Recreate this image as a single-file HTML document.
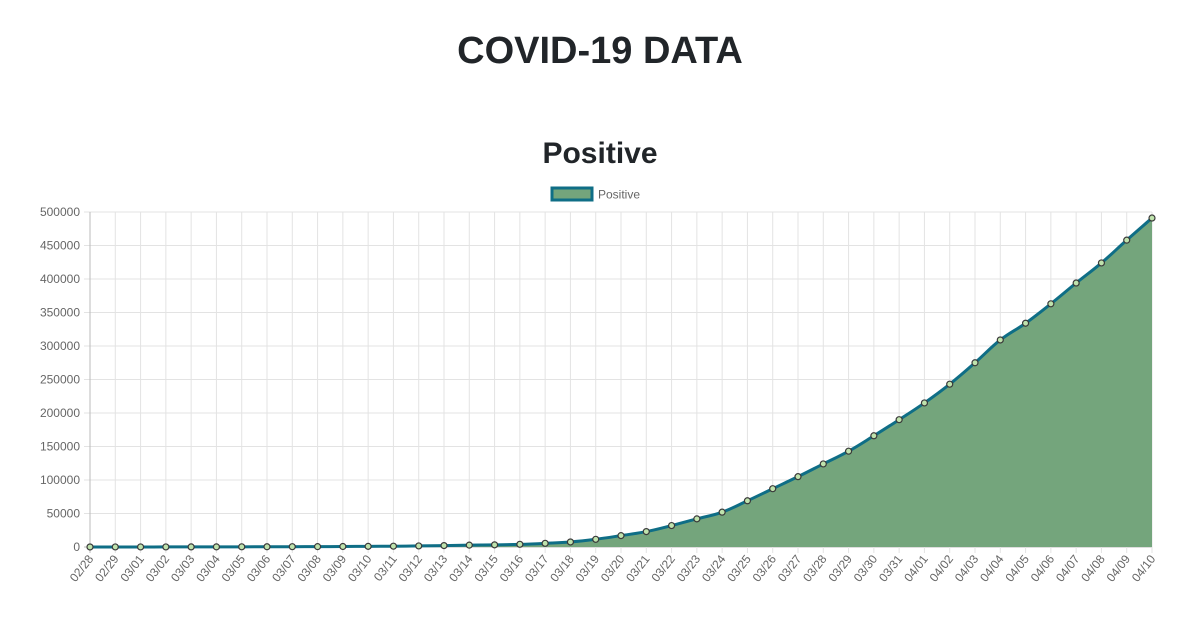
<!DOCTYPE html>
<html><head><meta charset="utf-8"><style>
body{margin:0;background:#fff;width:1200px;height:634px;overflow:hidden;font-family:"Liberation Sans",sans-serif}
h1{position:absolute;top:30px;left:0;width:1200px;text-align:center;margin:0;font-size:38px;font-weight:bold;color:#212529}
h2{position:absolute;top:137px;left:0;width:1200px;text-align:center;margin:0;font-size:30px;font-weight:bold;color:#212529}
svg{position:absolute;left:0;top:0}
</style></head><body>
<h1>COVID-19 DATA</h1>
<h2>Positive</h2>
<svg id="c" width="1200" height="634"></svg>
<script>
const labels=["02/28","02/29","03/01","03/02","03/03","03/04","03/05","03/06","03/07","03/08","03/09","03/10","03/11","03/12","03/13","03/14","03/15","03/16","03/17","03/18","03/19","03/20","03/21","03/22","03/23","03/24","03/25","03/26","03/27","03/28","03/29","03/30","03/31","04/01","04/02","04/03","04/04","04/05","04/06","04/07","04/08","04/09","04/10"];
const positive=[50,80,90,100,150,200,250,350,450,550,750,950,1200,1600,2100,2800,3200,4000,5500,7500,11500,17000,23000,32000,42000,52000,69000,87000,105000,124000,143000,166000,190000,215000,243000,275000,309000,334000,363000,394000,424000,458000,491000];
const yTicks=[0,50000,100000,150000,200000,250000,300000,350000,400000,450000,500000];
const svg=document.getElementById('c');const NS='http://www.w3.org/2000/svg';
const X0=90,X1=1152,Y0=547,Y1=212,YMAX=500000;
const xs=i=>X0+(X1-X0)*i/(labels.length-1);
const ys=v=>Y0-(Y0-Y1)*v/YMAX;
function mk(t,a,p){const e=document.createElementNS(NS,t);for(const k in a)e.setAttribute(k,a[k]);(p||svg).appendChild(e);return e;}
yTicks.forEach(v=>{
 const l=mk('line',{x1:X0-6,x2:X1,y1:ys(v),y2:ys(v),stroke:v===0?'#bbb':'#e3e3e3','stroke-width':1});
 
 
 const t=mk('text',{x:X0-10,y:ys(v)+4,'text-anchor':'end','font-size':12,fill:'#666'});t.textContent=v;
 
 
});
labels.forEach((d,i)=>{
 const l=mk('line',{x1:xs(i),x2:xs(i),y1:Y1,y2:Y0+6,stroke:i===0?'#bbb':'#e3e3e3','stroke-width':1});
 
 
 const t=mk('text',{x:xs(i)+4,y:Y0+12,'text-anchor':'end','font-size':12,fill:'#666',transform:`rotate(-52 ${xs(i)+4} ${Y0+12})`});t.textContent=d;
 
 
});
const P=positive.map((v,i)=>[xs(i),ys(v)]);
let d=`M${P[0][0]},${P[0][1]}`;const k=0.2;
for(let i=0;i<P.length-1;i++){const p0=P[i-1]||P[i],p1=P[i],p2=P[i+1],p3=P[i+2]||P[i+1];
 let c1y=p1[1]+(p2[1]-p0[1])*k,c2y=p2[1]-(p3[1]-p1[1])*k;c1y=Math.min(c1y,Y0);c2y=Math.min(c2y,Y0);
 d+=` C${p1[0]+(p2[0]-p0[0])*k},${c1y} ${p2[0]-(p3[0]-p1[0])*k},${c2y} ${p2[0]},${p2[1]}`;}
const area=mk('path',{d:d+` L${X1},${Y0} L${X0},${Y0} Z`,fill:'#74a57c'});


const line=mk('path',{d:d,fill:'none',stroke:'#0f6e86','stroke-width':3});


P.forEach(p=>{const c=mk('circle',{cx:p[0],cy:p[1],r:3,fill:'#bfe3ad',stroke:'#3a3a3a','stroke-width':1.2});
 
 });
const g=mk('g',{});


mk('rect',{x:552,y:188,width:40,height:12,fill:'#74a57c',stroke:'#0f6e86','stroke-width':3},g);
const lt=mk('text',{x:598,y:198.5,'font-size':12,fill:'#666'},g);lt.textContent='Positive';
</script>
</body></html>
